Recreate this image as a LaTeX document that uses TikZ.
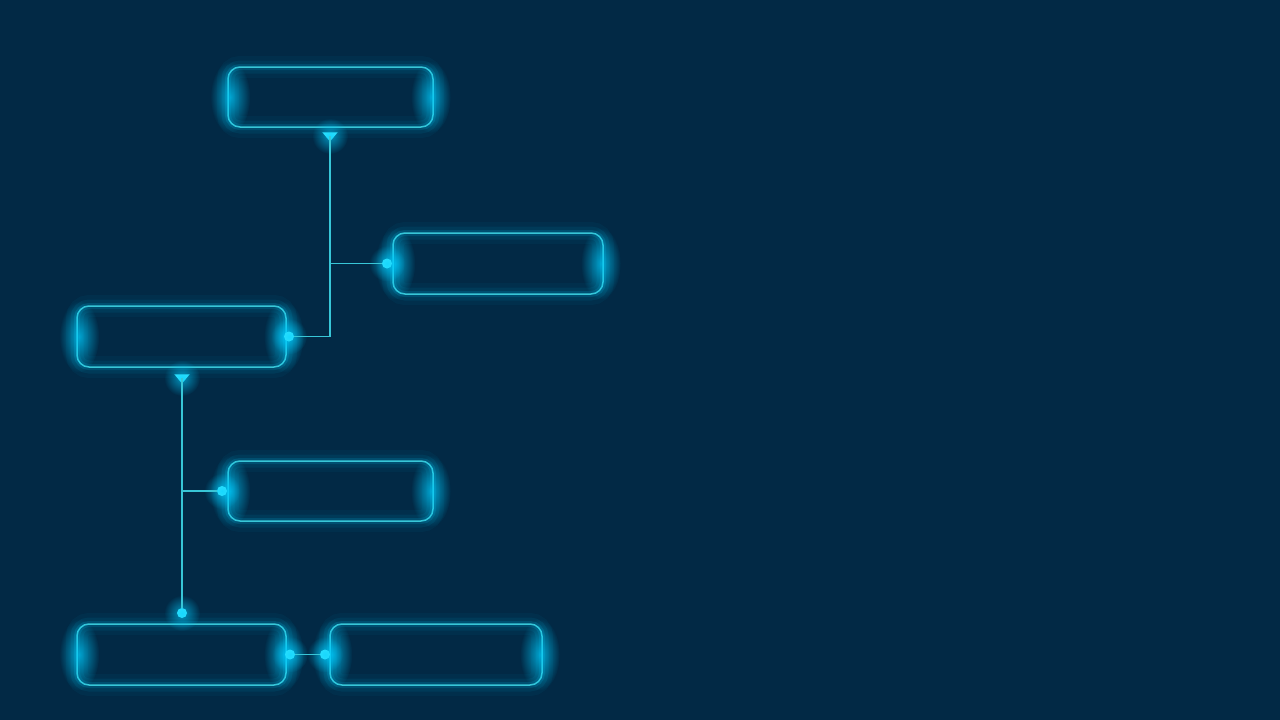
\documentclass[tikz,border=0pt]{standalone}
\usetikzlibrary{fadings,shapes.geometric}
\definecolor{bg}{RGB}{2,41,69}
\definecolor{lineC}{RGB}{56,198,215}
\definecolor{glowC}{RGB}{0,205,255}
\definecolor{brightC}{RGB}{70,235,252}
\tikzfading[name=softglow, inner color=transparent!0, outer color=transparent!100]
\tikzset{
  box/.style={draw=lineC, line width=1.5pt, rounded corners=12pt, inner sep=0pt,
    preaction={draw=glowC, line width=22pt, draw opacity=0.04},
    preaction={draw=glowC, line width=13pt, draw opacity=0.07},
    preaction={draw=glowC, line width=6pt, draw opacity=0.14}},
  dotm/.style={circle, fill=brightC, minimum size=10pt, inner sep=0pt},
  trim/.style={isosceles triangle, isosceles triangle apex angle=80, shape border rotate=-90, fill=brightC, minimum width=14pt, minimum height=9pt, inner sep=0pt},
  wire/.style={draw=lineC, line width=1.3pt},
  halo/.style={fill=glowC, path fading=softglow, fill opacity=0.7}
}
\newcommand{\sideglow}[1]{%
  \fill[halo] ([xshift=3pt]#1.west) ellipse (20pt and 36pt);
  \fill[halo] ([xshift=-3pt]#1.east) ellipse (20pt and 36pt);}
\begin{document}
\begin{tikzpicture}[x=1pt,y=-1pt]
\fill[bg] (0,0) rectangle (1280,720);
\useasboundingbox (0,0) rectangle (1280,720);
% boxes
\node[box, minimum width=205pt, minimum height=60pt] (A) at (330.5,97) {};
\node[box, minimum width=210pt, minimum height=61pt] (B) at (498,263.5) {};
\node[box, minimum width=209pt, minimum height=61pt] (C) at (181.5,336.5) {};
\node[box, minimum width=205pt, minimum height=60pt] (D) at (330.5,491) {};
\node[box, minimum width=209pt, minimum height=61pt] (E) at (181.5,654.5) {};
\node[box, minimum width=212pt, minimum height=61pt] (F) at (436,654.5) {};
\foreach \n in {A,B,C,D,E,F}{\sideglow{\n}}
% markers
\node[trim] (tA) at (330,136) {};
\node[dotm] (dB) at (387,263.5) {};
\node[dotm] (dC) at (289,336.5) {};
\node[trim] (tC) at (182,378) {};
\node[dotm] (dD) at (222,491) {};
\node[dotm] (dE) at (182,613) {};
\node[dotm] (dE2) at (290,654.5) {};
\node[dotm] (dF) at (325,654.5) {};
\foreach \m in {tA,dB,dC,tC,dD,dE,dE2,dF}{\fill[halo, fill opacity=0.65] (\m) circle (18pt);}
\coordinate (jB) at (330,263.5);
\coordinate (jC) at (330,336.5);
\coordinate (jD) at (182,491);
% connectors
\draw[wire] (tA.center) -- (jC) -- (dC);
\draw[wire] (jB) -- (dB);
\draw[wire] (tC.center) -- (dE);
\draw[wire] (jD) -- (dD);
\draw[wire] (dE2) -- (dF);
\end{tikzpicture}
\end{document}
